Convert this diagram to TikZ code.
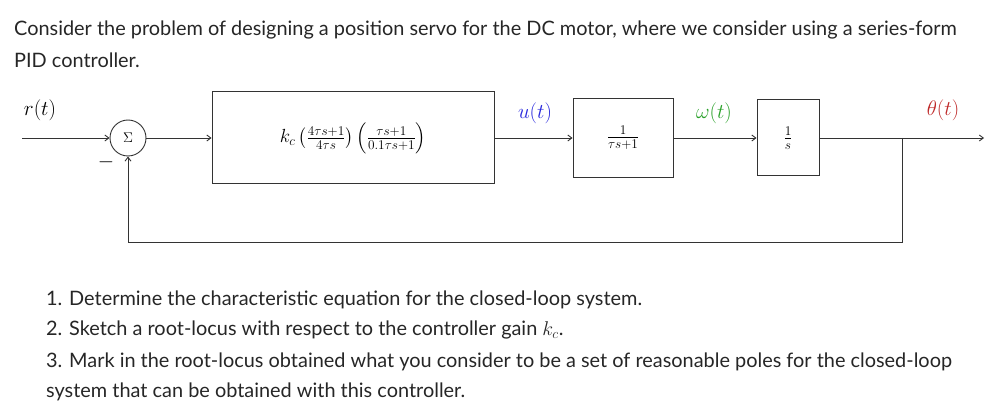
\RequirePackage{fix-cm}
\documentclass[tikz,border=0pt]{standalone}
\usepackage{fix-cm}
\usepackage{amsmath}
\usepackage{fontspec}
\setmainfont{Lato}
\usetikzlibrary{arrows.meta}
\begin{document}
\begin{tikzpicture}[x=1pt,y=-1pt,
  txt/.style={anchor=west,inner sep=0pt,font=\fontsize{19.9}{23}\selectfont,text=black!85},
  blk/.style={draw=black!80,line width=1pt,inner sep=0pt},
  sig/.style={draw=black!80,line width=0.9pt},
  arr/.style={sig,-{Straight Barb[length=4pt,width=6pt]}},
  mlab/.style={font=\fontsize{21}{24}\selectfont,inner sep=0pt}]
\useasboundingbox (0,0) rectangle (988,414);
\node[txt] (t1) at (14,30) {Consider the problem of designing a position servo for the DC motor, where we consider using a series-form};
\node[txt] (t2) at (14,60) {PID controller.};
\node[txt] (l1) at (46,300) {1. Determine the characteristic equation for the closed-loop system.};
\node[txt] (l2) at (46,330) {2. Sketch a root-locus with respect to the controller gain $k_c$.};
\node[txt] (l3) at (46,362) {3. Mark in the root-locus obtained what you consider to be a set of reasonable poles for the closed-loop};
\node[txt] (l4) at (46,392) {system that can be obtained with this controller.};
% diagram
\coordinate (in) at (22,138);
\node[draw=black!80,line width=0.9pt,circle,minimum size=36pt,inner sep=0pt,font=\fontsize{14}{16}\selectfont] (sum) at (128,138) {$\Sigma$};
\node[blk,minimum width=282pt,minimum height=92pt,font=\fontsize{19}{22}\selectfont] (c) at (353,138) {$k_c\left(\frac{4\tau s+1}{4\tau s}\right)\left(\frac{\tau s+1}{0.1\tau s+1}\right)$};
\node[blk,minimum width=100pt,minimum height=79pt,font=\fontsize{19}{22}\selectfont] (g1) at (623,138) {$\frac{1}{\tau s+1}$};
\node[blk,minimum width=62pt,minimum height=76pt,font=\fontsize{19}{22}\selectfont] (g2) at (788,138) {$\frac{1}{s}$};
\coordinate (br) at (902,138);
\coordinate (out) at (984,138);
\coordinate (fb1) at (902,242);
\coordinate (fb2) at (128,242);
\draw[arr] (in) -- (sum);
\draw[arr] (sum) -- (c);
\draw[arr] (c) -- (g1);
\draw[arr] (g1) -- (g2);
\draw[arr] (g2) -- (out);
\draw[arr] (br) -- (fb1) -- (fb2) -- (sum);
\node[mlab] (rt) at (40,110) {$r(t)$};
\node[mlab,text={rgb,255:red,40;green,40;blue,220}] (ut) at (535,113) {$u(t)$};
\node[mlab,text={rgb,255:red,40;green,160;blue,40}] (wt) at (714,113) {$\omega(t)$};
\node[mlab,text={rgb,255:red,190;green,40;blue,40}] (tt) at (943,110) {$\theta(t)$};
\node[mlab] (minus) at (106,162) {$-$};
\end{tikzpicture}
\end{document}
